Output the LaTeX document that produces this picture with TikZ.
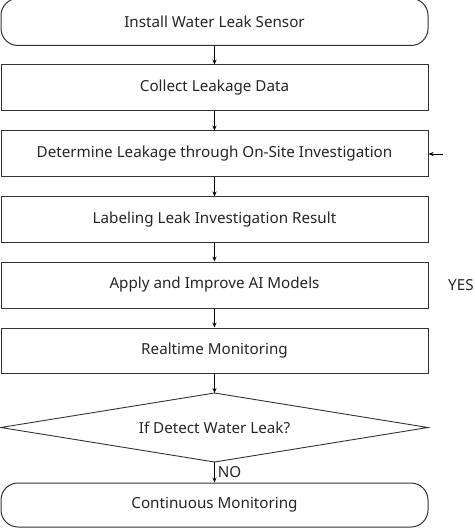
\documentclass[tikz,border=0pt]{standalone}
\usepackage{fontspec}
\setmainfont{Noto Sans}
\usetikzlibrary{arrows.meta}
\begin{document}
\begin{tikzpicture}[x=1pt,y=1pt,
  every node/.style={font=\fontsize{15.2}{17}\selectfont, text=black!85},
  box/.style={draw=black!80, line width=1pt, minimum width=427pt, inner sep=0pt, fill=white},
  term/.style={box, rounded corners=17pt},
  decline/.style={draw=black!80, line width=0.9pt},
  arr/.style={draw=black, line width=0.8pt, -{Stealth[length=5pt,width=4pt]}}]
\useasboundingbox (0,0) rectangle (474,-529);
\node[term, minimum height=47pt] (t1) at (214.5,-22) {Install Water Leak Sensor};
\node[box, minimum height=46pt] (b2) at (214.5,-88) {Collect Leakage Data};
\node[box, minimum height=46pt] (b3) at (214.5,-154) {Determine Leakage through On-Site Investigation};
\node[box, minimum height=45pt] (b4) at (214.5,-219.5) {Labeling Leak Investigation Result};
\node[box, minimum height=46pt] (b5) at (214.5,-285) {Apply and Improve AI Models};
\node[box, minimum height=45pt] (b6) at (214.5,-350.5) {Realtime Monitoring};
\coordinate (dN) at (214.5,-393);
\coordinate (dS) at (214.5,-462);
\coordinate (dW) at (0.7,-427.5);
\coordinate (dE) at (428,-427.5);
\draw[decline] (dN) -- (dE) -- (dS) -- (dW) -- cycle;
\node (d) at (214.5,-427.5) {If Detect Water Leak?};
\node[term, minimum height=44pt] (t7) at (214.5,-505) {Continuous Monitoring};
\coordinate (r3) at (443,-154);
\node[anchor=west, inner sep=0pt] (yes) at (448,-285) {YES};
\draw[arr] (t1) -- (b2);
\draw[arr] (b2) -- (b3);
\draw[arr] (b3) -- (b4);
\draw[arr] (b4) -- (b5);
\draw[arr] (b5) -- (b6);
\draw[arr] (b6) -- (dN);
\draw[arr] (dS) -- node[right, inner sep=3pt] (no) {NO} (t7);
\draw[arr, line width=0.6pt] (r3) -- (b3.east);
\end{tikzpicture}
\end{document}
